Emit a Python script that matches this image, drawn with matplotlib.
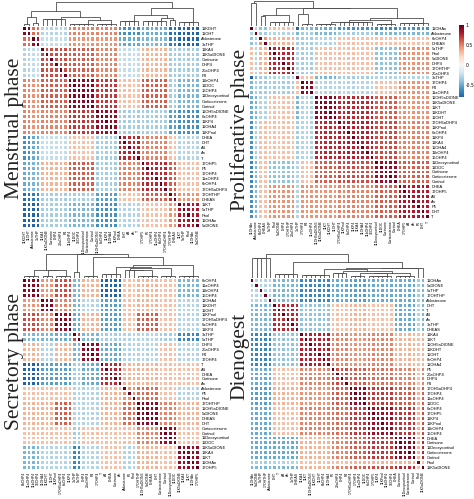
import numpy as np
import matplotlib
matplotlib.use("Agg")
import matplotlib.pyplot as plt
from matplotlib.colors import ListedColormap, Normalize
from matplotlib.ticker import FixedFormatter

# ---------------- data ----------------
titles = ["Menstrual phase", "Proliferative phase", "Secretory phase", "Dienogest"]

order_menstrual = ["11KDHT", "11OHT", "Aldosterone", "3aTHP", "11KA4", "11K5aDIONE", "Cortisone",
                   "DHP4", "20aOHP4", "P4", "11bOHP4", "11DOC", "16OHP4", "11Deoxycortisol",
                   "Corticosterone", "Cortisol", "11OH5aDIONE", "6aOHP4", "11KP4", "11OHA4",
                   "11KPnol", "DHEA", "DHT", "A4", "An", "T", "17OHP5", "P5", "17OHP4", "11aOHP4",
                   "6bOHP4", "17OH5aDHP4", "17OHTHP", "DHEAS", "11KT", "5aTHP", "Pnol", "11OHAn",
                   "5aDIONE"]
groups_menstrual = [2, 2, 6, 6, 5, 5, 6, 2, 5]
blocks_menstrual = [
    [0.90, 0.55, -0.30, 0.50, 0.50, -0.60, -0.50, -0.75, -0.85],
    [None, 0.85, -0.25, 0.45, 0.45, -0.50, -0.45, -0.70, -0.80],
    [None, None, 0.65, 0.60, 0.50, -0.25, 0.35, -0.35, -0.35],
    [None, None, None, 0.90, 0.70, 0.30, 0.60, -0.35, -0.45],
    [None, None, None, None, 0.88, -0.35, -0.35, -0.55, -0.60],
    [None, None, None, None, None, 0.75, 0.50, 0.30, -0.30],
    [None, None, None, None, None, None, 0.75, 0.60, 0.30],
    [None, None, None, None, None, None, None, 0.70, 0.45],
    [None, None, None, None, None, None, None, None, 0.80],
]

order_proliferative = ["11OHAn", "Aldosterone", "6bOHP4", "DHEAS", "5aTHP", "Pnol", "5aDIONE", "DHP4",
                       "17OHTHP", "20aOHP4", "3aTHP", "17OHP4", "P4", "11aOHP4", "11OH5aDIONE",
                       "11K5aDIONE", "11KT", "11KDHT", "11OHT", "17OH5aDHP4", "11KPnol", "6aOHP4",
                       "11KP4", "11KA4", "11OHA4", "11bOHP4", "16OHP4", "11Deoxycortisol", "11DOC",
                       "Cortisone", "Corticosterone", "Cortisol", "DHEA", "17OHP5", "A4", "An", "P5",
                       "DHT", "T"]
groups_proliferative = [1, 1, 2, 6, 1, 3, 5, 8, 5, 7]
blocks_proliferative = [
    [1.00, -0.30, -0.40, 0.30, -0.80, -0.45, -0.50, -0.60, -0.65, -0.60],
    [None, 1.00, -0.35, -0.30, -0.45, -0.35, -0.45, -0.35, -0.45, -0.45],
    [None, None, 0.45, 0.35, -0.35, -0.35, -0.30, 0.30, 0.30, 0.30],
    [None, None, None, 0.75, -0.30, -0.35, 0.30, 0.30, -0.40, 0.45],
    [None, None, None, None, 1.00, 0.30, -0.45, -0.35, -0.30, -0.30],
    [None, None, None, None, None, 0.90, -0.30, -0.30, 0.30, 0.45],
    [None, None, None, None, None, None, 0.90, 0.75, 0.60, 0.45],
    [None, None, None, None, None, None, None, 0.78, 0.65, 0.50],
    [None, None, None, None, None, None, None, None, 0.88, 0.60],
    [None, None, None, None, None, None, None, None, None, 0.80],
]

order_secretory = ["6bOHP4", "11aOHP4", "11bOHP4", "16OHP4", "11OHA4", "11KDHT", "11OHT", "11KPnol",
                   "17OH5aDHP4", "6aOHP4", "11KP4", "3aTHP", "5aTHP", "DHP4", "20aOHP4", "P4",
                   "17OHP4", "T", "A4", "DHEA", "Cortisone", "An", "Aldosterone", "P5", "Pnol",
                   "17OHTHP", "11OH5aDIONE", "5aDIONE", "DHEAS", "DHT", "Corticosterone", "Cortisol",
                   "11Deoxycortisol", "11DOC", "11K5aDIONE", "11KA4", "11KT", "11OHAn", "17OHP5"]
groups_secretory = [4, 3, 4, 2, 4, 5, 3, 5, 4, 5]
blocks_secretory = [
    [0.90, 0.45, 0.65, -0.45, 0.35, -0.85, 0.30, 0.35, 0.30, -0.45],
    [None, 0.90, 0.50, -0.45, -0.30, -0.55, 0.30, 0.35, 0.30, -0.30],
    [None, None, 0.88, -0.50, 0.35, -0.55, 0.30, 0.60, 0.30, -0.30],
    [None, None, None, 0.65, -0.45, -0.35, -0.30, -0.30, -0.35, -0.65],
    [None, None, None, None, 0.88, -0.50, -0.30, -0.30, 0.30, -0.30],
    [None, None, None, None, None, 0.75, 0.35, 0.35, 0.30, 0.30],
    [None, None, None, None, None, None, 0.45, 0.55, 0.30, -0.30],
    [None, None, None, None, None, None, None, 0.90, 0.50, 0.35],
    [None, None, None, None, None, None, None, None, 0.88, 0.30],
    [None, None, None, None, None, None, None, None, None, 0.88],
]

order_dienogest = ["11OHAn", "5aDIONE", "5aTHP", "17OHTHP", "Aldosterone", "DHT", "T", "A4", "An",
                   "3aTHP", "DHEAS", "11KA4", "11KT", "11OH5aDIONE", "11KDHT", "11OHT", "6bOHP4",
                   "11OHA4", "P5", "20aOHP4", "DHP4", "P4", "17OH5aDHP4", "17OHP4", "11aOHP4", "11DOC",
                   "6aOHP4", "17OHP5", "11KP4", "11KPnol", "11bOHP4", "16OHP4", "DHEA", "Cortisone",
                   "11Deoxycortisol", "Corticosterone", "Cortisol", "Pnol", "11K5aDIONE"]
groups_dienogest = [5, 6, 7, 4, 4, 6, 5, 1, 1]
blocks_dienogest = [
    [-0.30, -0.45, -0.65, -0.50, -0.55, -0.50, -0.50, -0.35, -0.45],
    [None, 0.75, -0.40, 0.30, 0.35, 0.30, -0.50, -0.30, -0.45],
    [None, None, 0.78, 0.50, 0.45, 0.50, 0.35, 0.30, 0.35],
    [None, None, None, 0.65, 0.60, 0.55, 0.50, 0.30, 0.50],
    [None, None, None, None, 0.88, 0.70, 0.60, 0.35, 0.60],
    [None, None, None, None, None, 0.85, 0.70, 0.35, 0.65],
    [None, None, None, None, None, None, 0.90, 0.35, 0.75],
    [None, None, None, None, None, None, None, 1.00, 0.30],
    [None, None, None, None, None, None, None, None, 1.00],
]

colorbar_ticks = [1, 0.5, 0, -0.5]
colorbar_labels = ["1", "0.5", "0", "-0.5"]

# ---------------- helpers ----------------
def build_matrix(groups, blocks):
    k = len(groups)
    B = np.zeros((k, k))
    for i in range(k):
        for j in range(i, k):
            B[i, j] = B[j, i] = blocks[i][j]
    gid = np.repeat(np.arange(k), groups)
    M = B[np.ix_(gid, gid)]
    np.fill_diagonal(M, 1.0)
    return M


def dendro_segments(M):
    n = M.shape[0]
    D = 1.0 - M
    clusters = [([i], i + 0.5, 0.0) for i in range(n)]
    segs = []
    while len(clusters) > 1:
        best, bk = None, 0
        for k in range(len(clusters) - 1):
            a, b = clusters[k][0], clusters[k + 1][0]
            d = D[np.ix_(a, b)].mean()
            if best is None or d < best - 1e-12:
                best, bk = d, k
        a, xa, ha = clusters[bk]
        b, xb, hb = clusters[bk + 1]
        h = max(best, ha, hb)
        segs.append(([xa, xa, xb, xb], [ha, h, h, hb]))
        clusters[bk:bk + 2] = [(a + b, (xa + xb) / 2, h)]
    return segs, clusters[0][2]


W, H = 474, 499
fig = plt.figure(figsize=(W / 100, H / 100), dpi=100)


def px_axes(l, t, r, b):
    return fig.add_axes([l / W, 1 - b / H, (r - l) / W, (b - t) / H])


base = plt.get_cmap("RdBu_r")
vmin, vmax = -0.8, 1.0
cmap = ListedColormap(base(np.linspace((vmin + 1) / 2, 1.0, 256)))
norm = Normalize(vmin=vmin, vmax=vmax)

panels = [
    (order_menstrual, groups_menstrual, blocks_menstrual, (22, 26, 200, 228), 2, (15, 128)),
    (order_proliferative, groups_proliferative, blocks_proliferative, (249, 26, 430, 219), 1, (240, 130)),
    (order_secretory, groups_secretory, blocks_secretory, (22, 278, 200, 470), 254, (15, 362)),
    (order_dienogest, groups_dienogest, blocks_dienogest, (250, 278, 425, 470), 254, (240, 356)),
]

label_font = "Liberation Sans"
mesh = None
for (labels, groups, blocks, (l, t, r, b), dtop, (tx, ty)), title in zip(panels, titles):
    M = build_matrix(groups, blocks)
    n = len(labels)
    ax = px_axes(l, t, r, b)
    mesh = ax.pcolormesh(M, cmap=cmap, norm=norm, edgecolors="white", linewidth=0.08)
    ax.set_xlim(0, n)
    ax.set_ylim(n, 0)
    for s in ax.spines.values():
        s.set_visible(False)
    ax.set_yticks(np.arange(n) + 0.5)
    ax.set_yticklabels(labels, fontsize=2.9, family=label_font)
    ax.yaxis.tick_right()
    ax.set_xticks(np.arange(n) + 0.5)
    ax.set_xticklabels(labels, fontsize=2.5, rotation=90, family=label_font)
    ax.tick_params(length=0, pad=1.0)

    # dendrogram
    dax = px_axes(l, dtop, r, t)
    segs, root = dendro_segments(M)
    for xs, ys in segs:
        dax.plot(xs, ys, color="#4d4d4d", lw=0.6)
    dax.set_xlim(0, n)
    dax.set_ylim(0, root * 1.02)
    dax.axis("off")

    fig.text(tx / W, 1 - ty / H, title, rotation=90, ha="center", va="center",
             family="Liberation Serif", fontsize=15.5, color="#222222")

# colorbar
cax = px_axes(459, 25, 464, 97)
cb = fig.colorbar(mesh, cax=cax, ticks=colorbar_ticks)
cb.ax.yaxis.set_major_formatter(FixedFormatter(colorbar_labels))
cb.outline.set_visible(False)
cb.ax.tick_params(labelsize=3.3, length=0, pad=1.2)

fig.savefig("out.png", dpi=100)
